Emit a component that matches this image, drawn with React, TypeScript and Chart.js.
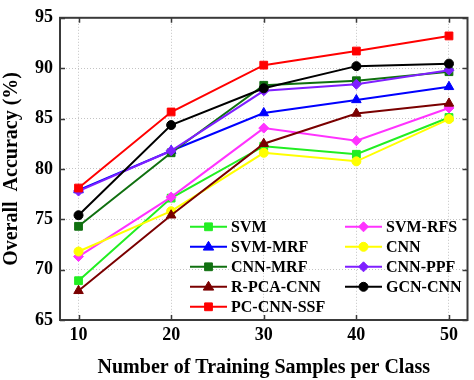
import React, { useEffect, useRef } from "react";
import { Chart, registerables } from "chart.js";
Chart.register(...registerables);

const samples = [10, 20, 30, 40, 50];
const svm = [68.9, 77.1, 82.25, 81.45, 85.1];
const svmRfs = [71.3, 77.2, 84.05, 82.8, 86.05];
const svmMrf = [77.9, 81.8, 85.55, 86.85, 88.15];
const cnn = [71.8, 75.8, 81.6, 80.75, 84.95];
const cnnMrf = [74.3, 81.6, 88.3, 88.75, 89.65];
const cnnPpf = [77.8, 81.8, 87.75, 88.4, 89.8];
const rPcaCnn = [67.9, 75.4, 82.5, 85.5, 86.5];
const gcnCnn = [75.4, 84.35, 88.0, 90.2, 90.45];
const pcCnnSsf = [78.1, 85.65, 90.3, 91.7, 93.2];
const seriesNames = ["SVM", "SVM-RFS", "SVM-MRF", "CNN", "CNN-MRF", "CNN-PPF", "R-PCA-CNN", "GCN-CNN", "PC-CNN-SSF"];
const seriesValues = [svm, svmRfs, svmMrf, cnn, cnnMrf, cnnPpf, rPcaCnn, gcnCnn, pcCnnSsf];
const seriesColors = ["#22ee22", "#ff33ff", "#0000ff", "#ffff00", "#107010", "#7f1fff", "#7a0000", "#000000", "#ff0000"];
const seriesMarkers = ["rect", "rectRot", "triangle", "circle", "rect", "rectRot", "triangle", "circle", "rect"];
const xTicks = [10, 20, 30, 40, 50];
const yTicks = [65, 70, 75, 80, 85, 90, 95];

const FONT = "'Liberation Serif', 'Times New Roman', serif";

function markerRadius(m: string) {
  if (m === "rect") return 5.5;
  if (m === "triangle") return 5.5;
  if (m === "rectRot") return 5;
  return 4.5;
}

function drawMarker(ctx: CanvasRenderingContext2D, m: string, x: number, y: number, r: number, color: string) {
  ctx.save();
  ctx.fillStyle = color;
  ctx.strokeStyle = color;
  ctx.lineWidth = 1;
  ctx.beginPath();
  if (m === "rect") {
    const s = Math.SQRT1_2 * r;
    ctx.rect(x - s, y - s, 2 * s, 2 * s);
  } else if (m === "rectRot") {
    ctx.moveTo(x, y - r);
    ctx.lineTo(x + r, y);
    ctx.lineTo(x, y + r);
    ctx.lineTo(x - r, y);
    ctx.closePath();
  } else if (m === "triangle") {
    ctx.moveTo(x, y - r);
    ctx.lineTo(x + r * 0.95, y + r * 0.6);
    ctx.lineTo(x - r * 0.95, y + r * 0.6);
    ctx.closePath();
  } else {
    ctx.arc(x, y, r, 0, Math.PI * 2);
  }
  ctx.fill();
  ctx.stroke();
  ctx.restore();
}

const framePlugin = {
  id: "frameLegend",
  afterDraw(chart: any) {
    const { ctx, chartArea } = chart;
    const { left, right, top, bottom } = chartArea;
    const xs = chart.scales.x;
    const ys = chart.scales.y;
    ctx.save();
    ctx.strokeStyle = "#3a3a3a";
    ctx.lineWidth = 2;
    ctx.strokeRect(left, top, right - left, bottom - top);
    ctx.lineWidth = 1.5;
    const tl = 5;
    ctx.beginPath();
    for (const v of xTicks) {
      const px = Math.round(xs.getPixelForValue(v)) + 0.5;
      ctx.moveTo(px, top);
      ctx.lineTo(px, top + tl);
      ctx.moveTo(px, bottom);
      ctx.lineTo(px, bottom - tl);
    }
    for (const v of yTicks) {
      const py = Math.round(ys.getPixelForValue(v)) + 0.5;
      ctx.moveTo(left, py);
      ctx.lineTo(left + tl, py);
      ctx.moveTo(right, py);
      ctx.lineTo(right - tl, py);
    }
    ctx.stroke();

    // legend
    const lx0 = left + 130;
    const colW = 155;
    const ly0 = top + 209;
    const rowH = 20;
    ctx.font = `bold 16px ${FONT}`;
    ctx.textBaseline = "middle";
    ctx.fillStyle = "#000";
    seriesNames.forEach((name, i) => {
      const col = i % 2;
      const row = Math.floor(i / 2);
      const x = lx0 + col * colW;
      const y = ly0 + row * rowH;
      ctx.strokeStyle = seriesColors[i];
      ctx.lineWidth = 2;
      ctx.beginPath();
      ctx.moveTo(x, y);
      ctx.lineTo(x + 37, y);
      ctx.stroke();
      drawMarker(ctx, seriesMarkers[i], x + 18.5, y, markerRadius(seriesMarkers[i]), seriesColors[i]);
      ctx.fillStyle = "#000";
      ctx.fillText(name, x + 41, y + 1);
    });
    ctx.restore();
  },
};

export default function App() {
  const ref = useRef<HTMLCanvasElement>(null);
  useEffect(() => {
    if (!ref.current) return;
    const n = seriesNames.length;
    const chart = new Chart(ref.current, {
      type: "line",
      data: {
        datasets: seriesNames.map((name, i) => ({
          label: name,
          data: samples.map((s, j) => ({ x: s, y: seriesValues[i][j] })),
          borderColor: seriesColors[i],
          backgroundColor: seriesColors[i],
          pointBackgroundColor: seriesColors[i],
          pointBorderColor: seriesColors[i],
          pointStyle: seriesMarkers[i] as any,
          pointRadius: markerRadius(seriesMarkers[i]),
          pointBorderWidth: 1,
          borderWidth: 2,
          tension: 0,
          fill: false,
          order: n - i,
        })),
      },
      options: {
        animation: false,
        responsive: false,
        devicePixelRatio: 1,
        layout: { padding: { top: 14, right: 1, left: 0, bottom: 0 } },
        plugins: { legend: { display: false }, tooltip: { enabled: false } },
        scales: {
          x: {
            type: "linear",
            min: 8,
            max: 52,
            afterBuildTicks: (s: any) => {
              s.ticks = xTicks.map((v) => ({ value: v }));
            },
            afterFit: (s: any) => {
              s.height = 60;
            },
            grid: { color: "#c4c4c4", lineWidth: 1, drawTicks: false },
            border: { display: false, dash: [1, 2] },
            ticks: { color: "#000", font: { family: FONT, size: 18, weight: "bold" }, padding: 5, maxRotation: 0 },
            title: {
              display: true,
              text: "Number of Training Samples per Class",
              color: "#000",
              font: { family: FONT, size: 20, weight: "bold" },
              padding: 0,
            },
          },
          y: {
            type: "linear",
            min: 65,
            max: 95,
            afterBuildTicks: (s: any) => {
              s.ticks = yTicks.map((v) => ({ value: v }));
            },
            afterFit: (s: any) => {
              s.width = 60;
            },
            grid: { color: "#c4c4c4", lineWidth: 1, drawTicks: false },
            border: { display: false, dash: [1, 2] },
            ticks: { color: "#000", font: { family: FONT, size: 18, weight: "bold" }, padding: 7 },
            title: {
              display: true,
              text: "Overall  Accuracy (%)",
              color: "#000",
              font: { family: FONT, size: 20, weight: "bold" },
              padding: 0,
            },
          },
        },
      },
      plugins: [framePlugin],
    });
    return () => chart.destroy();
  }, []);
  return (
    <div style={{ position: "fixed", left: 0, top: 0, width: 474, height: 380, background: "#fff" }}>
      <canvas ref={ref} width={474} height={380} style={{ display: "block" }} />
    </div>
  );
}
